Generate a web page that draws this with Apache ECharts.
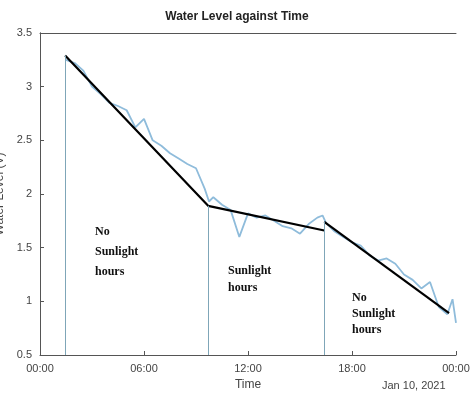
<!DOCTYPE html>
<html>
<head>
<meta charset="utf-8">
<script src="https://cdn.jsdelivr.net/npm/echarts@6/dist/echarts.min.js"></script>
<style>html,body{margin:0;padding:0;background:#fff}#chart{width:474px;height:405px}</style>
</head>
<body>
<div id="chart"></div>
<script>
// hours since 00:00, Jan 10 2021
var hours = [1.5,2,2.5,3,3.5,4,4.5,5,5.5,6,6.5,7,7.5,8,8.5,9,9.5,9.75,10,10.5,11,11.5,12,12.5,13,13.5,14,14.5,15,15.5,16,16.3,16.5,17,17.5,18,18.5,19,19.5,20,20.5,21,21.5,22,22.5,23,23.5,23.8,24];
var level = [3.25,3.22,3.15,3.0,2.93,2.85,2.82,2.78,2.62,2.7,2.5,2.45,2.38,2.33,2.28,2.24,2.05,1.93,1.97,1.9,1.85,1.6,1.82,1.78,1.8,1.75,1.7,1.68,1.63,1.72,1.78,1.8,1.73,1.65,1.6,1.55,1.52,1.43,1.38,1.4,1.35,1.25,1.2,1.12,1.18,0.95,0.88,1.02,0.8];
var trend1 = [[1.45,3.29],[9.7,1.89],[16.4,1.66]];
var trend2 = [[16.4,1.74],[23.6,0.89]];
var dividers = [[1.45,3.29],[9.7,1.89],[16.4,1.74]];
var xTicks = ['00:00','06:00','12:00','18:00','00:00'];

var chart = echarts.init(document.getElementById('chart'));
var axisCommon = {
  axisLine: {show: true, lineStyle: {color: '#555'}},
  axisTick: {inside: true, length: 4, lineStyle: {color: '#555'}},
  splitLine: {show: false},
  axisLabel: {color: '#444', fontSize: 11, fontFamily: 'Arial'}
};
chart.setOption({
  animation: false,
  title: {text: 'Water Level against Time', left: 'center', top: 6,
    textStyle: {fontSize: 12, fontWeight: 'bold', color: '#222', fontFamily: 'Arial'}},
  grid: {left: 40, right: 18, top: 33, bottom: 50, outerBoundsMode: 'none', containLabel: false},
  xAxis: [
    Object.assign({}, axisCommon, {type: 'value', min: 0, max: 24, interval: 6,
      name: 'Time', nameLocation: 'middle', nameGap: 22,
      nameTextStyle: {color: '#444', fontSize: 12, fontFamily: 'Arial'},
      axisLabel: Object.assign({}, axisCommon.axisLabel, {formatter: function (v) { return xTicks[v / 6]; }})}),
    Object.assign({}, axisCommon, {type: 'value', min: 0, max: 24, interval: 6, position: 'top',
      axisLabel: {show: false}, axisTick: {show: false}})
  ],
  yAxis: [
    Object.assign({}, axisCommon, {type: 'value', min: 0.5, max: 3.5, interval: 0.5,
      name: 'Water Level (V)', nameLocation: 'middle', nameGap: 26,
      nameTextStyle: {color: '#444', fontSize: 12, fontFamily: 'Arial'}}),
    Object.assign({}, axisCommon, {type: 'value', min: 0.5, max: 3.5, interval: 0.5, position: 'right',
      axisLabel: {show: false}, axisTick: {show: false}})
  ],
  graphic: [
    {type: 'text', left: 382, top: 380, style: {text: 'Jan 10, 2021', fill: '#444', font: '11px Arial'}},
    {type: 'text', left: 95, top: 222, style: {text: 'No\nSunlight\nhours', fill: '#111', font: 'bold 12px "Liberation Serif"', lineHeight: 20}},
    {type: 'text', left: 228, top: 262, style: {text: 'Sunlight\nhours', fill: '#111', font: 'bold 12px "Liberation Serif"', lineHeight: 17}},
    {type: 'text', left: 352, top: 290, style: {text: 'No\nSunlight\nhours', fill: '#111', font: 'bold 12px "Liberation Serif"', lineHeight: 16}}
  ],
  series: [
    {type: 'line', data: hours.map(function (h, i) { return [h, level[i]]; }), symbol: 'none',
      lineStyle: {color: '#8fbcdb', width: 1.8},
      markLine: {silent: true, symbol: 'none', label: {show: false},
        lineStyle: {color: '#7fa6b8', width: 1, type: 'solid'},
        data: dividers.map(function (d) { return [{coord: [d[0], 0.5]}, {coord: [d[0], d[1]]}]; })}},
    {type: 'line', data: trend1, symbol: 'none', lineStyle: {color: '#000', width: 2.2}},
    {type: 'line', data: trend2, symbol: 'none', lineStyle: {color: '#000', width: 2.2}}
  ]
});
</script>
</body>
</html>
